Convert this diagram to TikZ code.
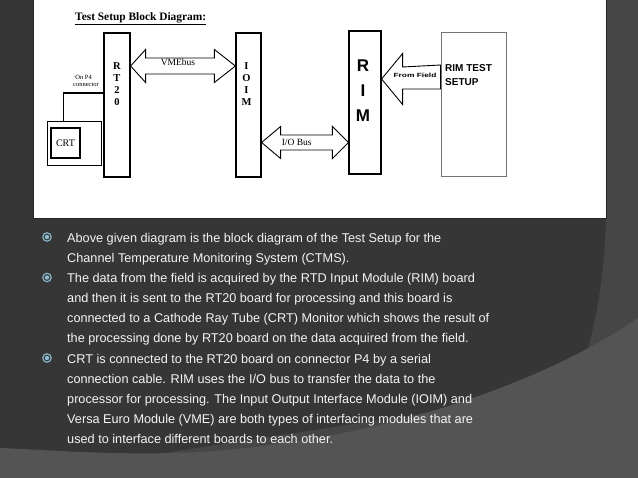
\documentclass[tikz,border=0pt]{standalone}
\usepackage{fontspec}
\setmainfont{Liberation Serif}
\setsansfont{Liberation Sans}
\usetikzlibrary{positioning,calc}
\definecolor{slidedark}{HTML}{363636}
\definecolor{slidemid}{HTML}{464646}
\definecolor{slidelight}{HTML}{545454}
\definecolor{slidetext}{HTML}{F4F4F4}
\definecolor{bulletblue}{HTML}{8DBCD2}

\begin{document}
\begin{tikzpicture}[
  x=1pt, y=-1pt,
  board/.style={draw, line width=1.2pt, inner sep=0pt,
    minimum width=26pt, minimum height=144pt},
  boardtxt/.style={font=\fontsize{10.5}{11.7}\selectfont\bfseries,
    align=center, inner sep=0pt},
  rimtxt/.style={font=\sffamily\fontsize{17}{25}\selectfont\bfseries,
    align=center, inner sep=0pt},
  busarrow/.style={draw, line width=.9pt, fill=white},
  buslbl/.style={font=\fontsize{9.5}{11}\selectfont, inner sep=0pt},
  bulletmark/.style={circle, draw=bulletblue, line width=1.1pt,
    fill=slidedark, minimum size=8.5pt, inner sep=0pt,
    path picture={\fill[bulletblue] (path picture bounding box.center)
      circle (2.2pt);}},
  slidetxt/.style={font=\sffamily\fontsize{12.7}{20}\selectfont,
    text=slidetext, align=left, anchor=north west, inner sep=0pt}
]
\useasboundingbox (0,0) rectangle (638,478);

% 背景
\fill[slidemid] (0,0) rectangle (638,478);
\fill[slidedark] (0,0) -- (606,0) -- (606,218)
  .. controls (604,280) and (596,330) .. (575,390) -- (0,478) -- cycle;
\fill[slidelight] (638,318) .. controls (540,385) and (380,440) .. (200,452)
  .. controls (120,456) and (50,450) .. (0,448)
  -- (0,478) -- (638,478) -- cycle;

% 図のパネル
\draw[fill=white, draw=black!85, line width=.8pt] (33,-2) rectangle (606,218);
\node[font=\fontsize{11.4}{13}\selectfont\bfseries, anchor=base west,
  inner sep=0pt] (title) at (75,20.7) {\underline{Test Setup Block Diagram:}};

% ボード
\node[board] (rt) at (117,105) {};
\node[board, minimum width=25pt] (ioim) at (248.5,105) {};
\node[board, minimum width=32pt, minimum height=143pt] (rim) at (365,102.5) {};
\node[board, draw=black!55, line width=1pt, minimum width=65pt]
  (setup) at (473.5,105) {};

\node[boardtxt, below=30.5pt of rt.north] (rtlbl) {R\\T\\2\\0};
\node[boardtxt, below=30.5pt of ioim.north, xshift=-2pt] (ioimlbl) {I\\O\\I\\M};
\node[rimtxt, below=29pt of rim.north, xshift=-2pt] (rimlbl) {R\\I\\M};
\node[font=\sffamily\fontsize{10}{13.5}\selectfont\bfseries, align=left,
  anchor=north west, inner sep=0pt] (setuplbl) at (445,64.5) {RIM TEST\\SETUP};

% CRT
\node[draw, line width=1pt, minimum width=54pt, minimum height=44pt,
  inner sep=0pt] (crt) at (74,144) {};
\node[draw, line width=1.2pt, minimum width=29pt, minimum height=30pt,
  inner sep=0pt, font=\fontsize{10}{12}\selectfont] (crtin) at (65.5,143) {CRT};

% P4 コネクタ
\node[font=\fontsize{6.5}{7}\selectfont, align=left, anchor=north west,
  inner sep=0pt] (p4lbl) at (73,75) {·On P4\\connector};
\coordinate (p4) at (rt.west |- 0,93);
\draw[line width=1.1pt] (p4) -| ($(crt.north west)!0.315!(crt.north east)$);

% VMEbus
\coordinate (vmeL) at (rt.east |- 0,66);
\coordinate (vmeR) at (ioim.west |- 0,66);
\draw[busarrow] (vmeL) -- ++(15,-16.5) -- ++(0,8.5)
  -- ($(vmeR)+(-21,-8)$) -- ++(0,-8.5) -- (vmeR) -- ++(-21,16.5)
  -- ++(0,-8.5) -- ($(vmeL)+(15,8)$) -- ++(0,8.5) -- cycle;
\node[buslbl, anchor=base] (vmelbl) at ($(vmeL)!.5!(vmeR)+(-5,0)$) {VMEbus};

% I/O Bus
\coordinate (ioL) at (ioim.east |- 0,142.5);
\coordinate (ioR) at (rim.west |- 0,142.5);
\draw[busarrow] (ioL) -- ++(19,-16) -- ++(0,8.5)
  -- ($(ioR)+(-16,-7.5)$) -- ++(0,-8.5) -- (ioR) -- ++(-16,16)
  -- ++(0,-8.5) -- ($(ioL)+(19,7.5)$) -- ++(0,8.5) -- cycle;
\node[buslbl, anchor=base west] (iolbl) at ($(ioL)+(20,3.5)$) {I/O Bus};

% From Field
\coordinate (ffT) at (rim.east |- 0,79);
\coordinate (ffS) at (setup.west |- 0,77);
\draw[busarrow] (ffT) -- ++(21,-25.5) -- ++(0,13.5)
  -- ($(ffS)+(0,-12)$) -- ($(ffS)+(0,12)$) -- ($(ffT)+(21,10)$)
  -- ++(0,15.5) -- cycle;
\node[font=\sffamily\fontsize{6}{7}\selectfont\bfseries, inner sep=0pt]
  (fflbl) at (415,75.5) {\scalebox{1.4}[1]{From Field}};

% 説明文
\node[bulletmark] (b1) at (47,237) {};
\node[slidetxt] (t1) at (67,228)
  {\strut Above given diagram is the block diagram of the Test Setup for the\\
   Channel Temperature Monitoring System (CTMS).};
\node[bulletmark] (b2) at (47,277.5) {};
\node[slidetxt] (t2) at (67,268.5)
  {\strut The data from the field is acquired by the RTD Input Module (RIM) board\\
   and then it is sent to the RT20 board for processing and this board is\\
   connected to a Cathode Ray Tube (CRT) Monitor which shows the result of\\
   the processing done by RT20 board on the data acquired from the field.};
\node[bulletmark] (b3) at (47,358) {};
\node[slidetxt] (t3) at (67,349)
  {\strut CRT is connected to the RT20 board on connector P4 by a serial\\
   connection cable. RIM uses the I/O bus to transfer the data to the\\
   processor for processing. The Input Output Interface Module (IOIM) and\\
   Versa Euro Module (VME) are both types of interfacing modules that are\\
   used to interface different boards to each other.};
\end{tikzpicture}
\end{document}
